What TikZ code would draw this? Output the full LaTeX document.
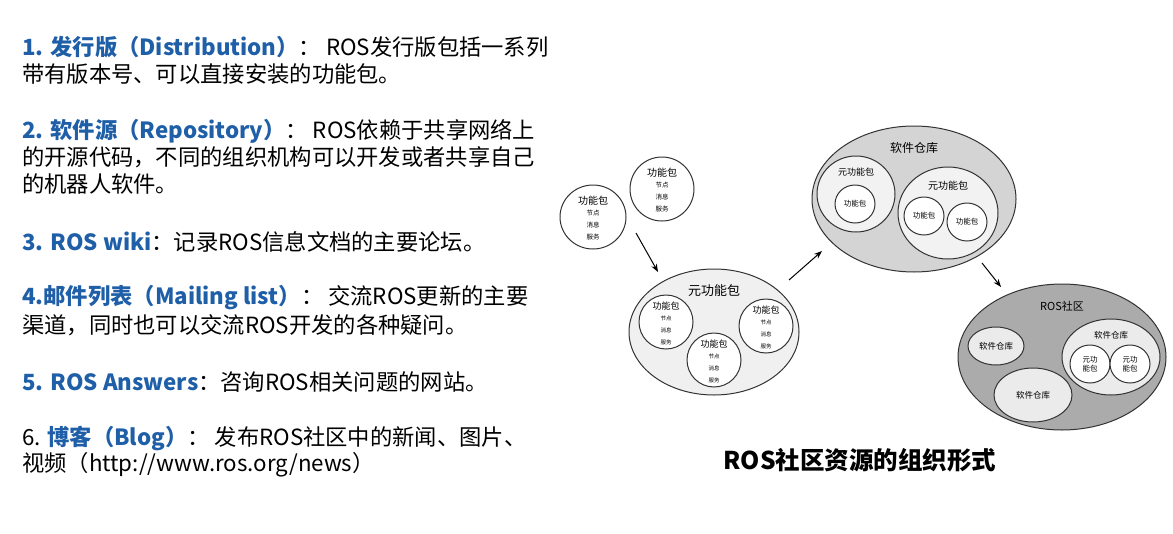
\documentclass[tikz,border=0pt]{standalone}
\usepackage{fontspec}
\setmainfont{Noto Sans CJK SC}
\usetikzlibrary{arrows.meta}
\definecolor{ablue}{HTML}{1F5FA8}
\newcommand{\pkgtxt}[3]{\fontsize{#1}{#1}\selectfont 功能包\\[-1pt]\fontsize{#2}{#3}\selectfont 节点\\\fontsize{#2}{#3}\selectfont 消息\\\fontsize{#2}{#3}\selectfont 服务}
\begin{document}
\begin{tikzpicture}[x=1pt,y=-1pt,
  line/.style={anchor=west,inner sep=0pt,font=\fontsize{22.3}{22}\selectfont},
  lab/.style={inner sep=0pt,align=center},
  arr/.style={-{Stealth[length=8pt,width=6pt]},line width=1pt}]
\useasboundingbox (0,0) rectangle (1173,533);
% left text
\node[line] (t1a) at (22,47) {\textcolor{ablue}{\bfseries 1. 发行版（Distribution）}： ROS发行版包括一系列};
\node[line] (t1b) at (22,74) {带有版本号、可以直接安装的功能包。};
\node[line] (t2a) at (22,131) {\textcolor{ablue}{\bfseries 2. 软件源（Repository）}： ROS依赖于共享网络上};
\node[line] (t2b) at (22,157) {的开源代码，不同的组织机构可以开发或者共享自己};
\node[line] (t2c) at (22,184) {的机器人软件。};
\node[line] (t3) at (22,242) {\textcolor{ablue}{\bfseries 3. ROS wiki}：记录ROS信息文档的主要论坛。};
\node[line] (t4a) at (22,298) {\textcolor{ablue}{\bfseries 4.邮件列表（Mailing list）}： 交流ROS更新的主要};
\node[line] (t4b) at (22,325) {渠道，同时也可以交流ROS开发的各种疑问。};
\node[line] (t5) at (22,382) {\textcolor{ablue}{\bfseries 5. ROS Answers}：咨询ROS相关问题的网站。};
\node[line] (t6a) at (22,438) {6. \textcolor{ablue}{\bfseries 博客（Blog）}： 发布ROS社区中的新闻、图片、};
\node[line] (t6b) at (22,465) {视频（http://www.ros.org/news）};
% packages
\draw[line width=1pt,draw=black!80,fill=white] (593,217) ellipse [x radius=33,y radius=32];
\node[lab] (p1) at (593,218) {\pkgtxt{10}{6.5}{11.5}};
\draw[line width=1pt,draw=black!80,fill=white] (662,189) ellipse [x radius=32,y radius=32];
\node[lab] (p2) at (662,190) {\pkgtxt{10}{6.5}{11.5}};
% meta package
\draw[line width=1pt,draw=black!80,fill=black!6] (714,332) ellipse [x radius=85,y radius=63];
\node[lab,font=\fontsize{13}{13}\selectfont] (mt) at (714,291) {元功能包};
\foreach \n/\x/\y in {ma/666/322, mb/766/326, mc/714/360}{
  \draw[line width=1pt,draw=black!80,fill=white] (\x,\y) ellipse [x radius=27,y radius=27];
  \node[lab] (\n) at (\x,\y+1) {\pkgtxt{9}{5.5}{9.5}};
}
% repository
\draw[line width=1pt,draw=black!80,fill=black!17] (914,199) ellipse [x radius=102,y radius=73];
\node[lab,font=\fontsize{12}{12}\selectfont] (rt) at (914,148) {软件仓库};
\draw[line width=1pt,draw=black!80,fill=black!5] (856,194) ellipse [x radius=39,y radius=38];
\node[lab,font=\fontsize{9}{9}\selectfont] at (856,172) {元功能包};
\draw[line width=1pt,draw=black!80,fill=white] (855,204) ellipse [x radius=20,y radius=19];
\node[lab,font=\fontsize{7.5}{7.5}\selectfont] at (855,204) {功能包};
\draw[line width=1pt,draw=black!80,fill=black!5] (948,213) ellipse [x radius=50,y radius=46];
\node[lab,font=\fontsize{10}{10}\selectfont] at (948,186) {元功能包};
\draw[line width=1pt,draw=black!80,fill=white] (924,216) ellipse [x radius=20,y radius=19];
\node[lab,font=\fontsize{7.5}{7.5}\selectfont] at (924,216) {功能包};
\draw[line width=1pt,draw=black!80,fill=white] (967,222) ellipse [x radius=20,y radius=19];
\node[lab,font=\fontsize{7.5}{7.5}\selectfont] at (967,222) {功能包};
% ROS community
\draw[line width=1pt,draw=black!80,fill=black!33] (1062,357) ellipse [x radius=104,y radius=73];
\node[lab,font=\fontsize{11}{11}\selectfont] (ct) at (1062,306) {ROS社区};
\draw[line width=1pt,draw=black!80,fill=black!8] (996,346) ellipse [x radius=28,y radius=19];
\node[lab,font=\fontsize{8.5}{8.5}\selectfont] at (996,346) {软件仓库};
\draw[line width=1pt,draw=black!80,fill=black!8] (1033,395) ellipse [x radius=39,y radius=27];
\node[lab,font=\fontsize{8.5}{8.5}\selectfont] at (1033,395) {软件仓库};
\draw[line width=1pt,draw=black!80,fill=black!8] (1111,357) ellipse [x radius=49,y radius=38];
\node[lab,font=\fontsize{8.5}{8.5}\selectfont] at (1111,335) {软件仓库};
\draw[line width=1pt,draw=black!80,fill=white] (1090,364) ellipse [x radius=20,y radius=19];
\node[lab,font=\fontsize{7.5}{9.5}\selectfont] at (1090,364) {元功\\能包};
\draw[line width=1pt,draw=black!80,fill=white] (1130,364) ellipse [x radius=20,y radius=19];
\node[lab,font=\fontsize{7.5}{9.5}\selectfont] at (1130,364) {元功\\能包};
% arrows
\coordinate (a1s) at (636,233); \coordinate (a1e) at (658,272);
\coordinate (a2s) at (789,280); \coordinate (a2e) at (822,251);
\coordinate (a3s) at (982,263); \coordinate (a3e) at (1001,287);
\draw[arr] (a1s) -- (a1e);
\draw[arr] (a2s) -- (a2e);
\draw[arr] (a3s) -- (a3e);
% caption
\node[inner sep=0pt,font=\bfseries\fontsize{24.5}{24}\selectfont] (cap) at (860,460) {ROS社区资源的组织形式};
\end{tikzpicture}
\end{document}
